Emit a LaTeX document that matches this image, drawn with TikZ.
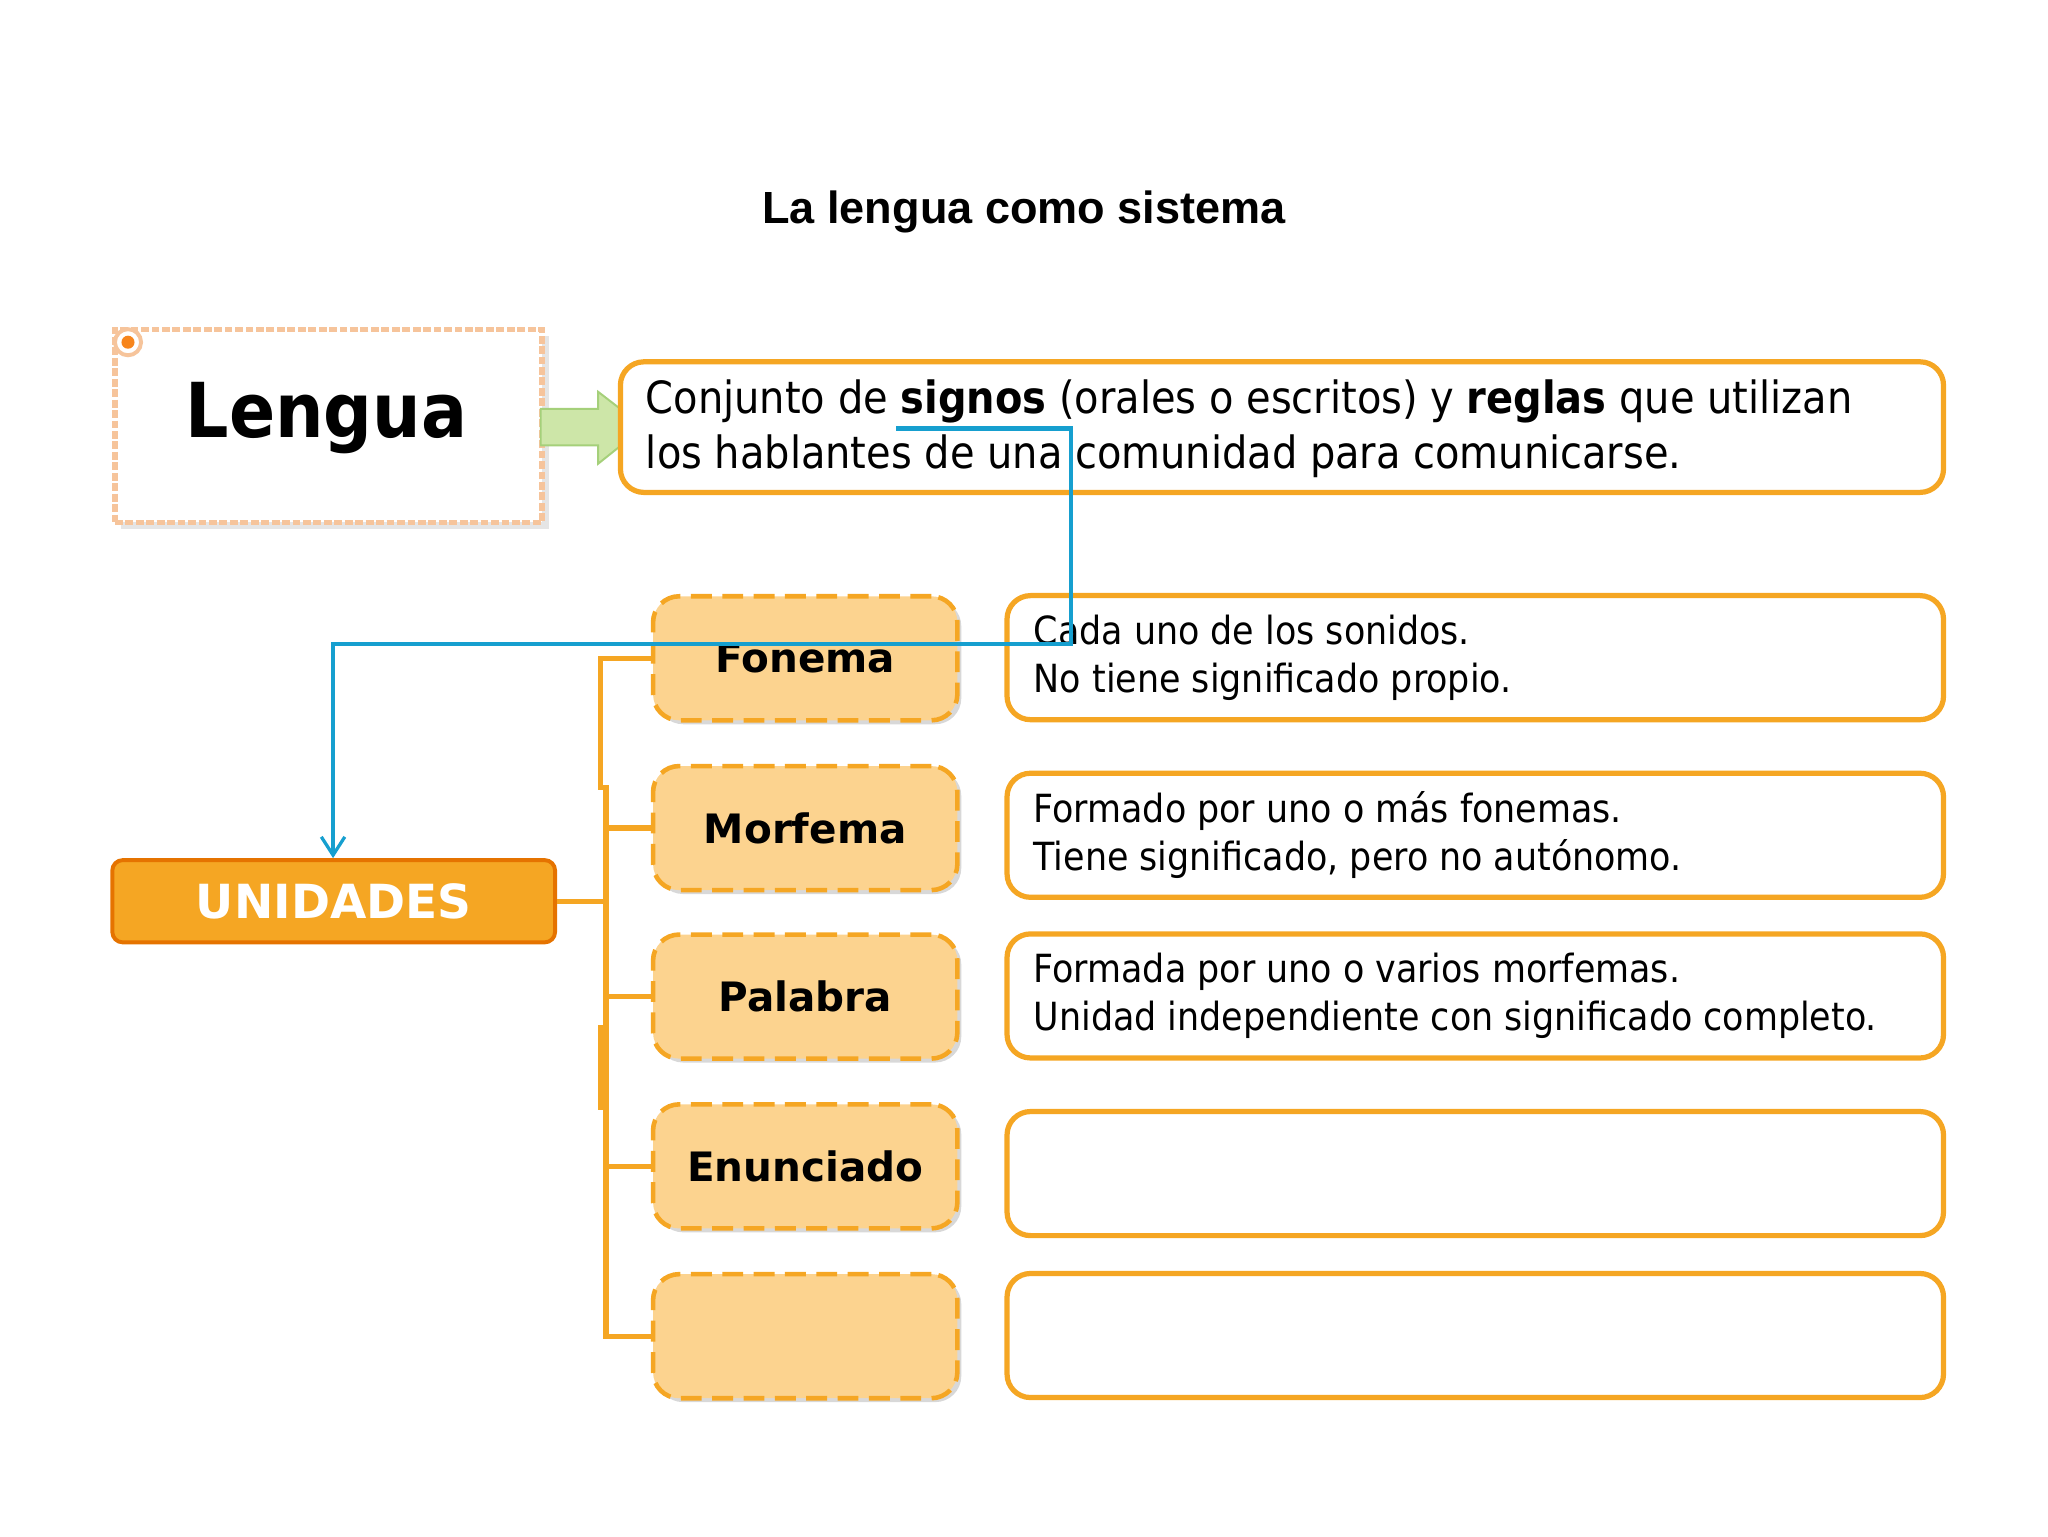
\documentclass[tikz,border=0pt]{standalone}
\usepackage{fontspec}
\setmainfont{DejaVu Sans Condensed}
\newfontfamily\titlefont{Liberation Sans}
\newfontfamily\lfont{DejaVu Sans}
\usetikzlibrary{arrows.meta,shadows}
\definecolor{org}{HTML}{F5A623}
\definecolor{unitfill}{HTML}{FCD38F}
\definecolor{peach}{HTML}{F6C49B}
\definecolor{blu}{HTML}{169FCF}
\definecolor{grfill}{HTML}{CDE6A8}
\definecolor{grdraw}{HTML}{A5D07A}
\tikzset{
 defbox/.style={draw=org,line width=4pt,rounded corners=18pt,fill=white},
 unitbox/.style={draw=org,line width=3.5pt,dash pattern=on 16pt off 8pt,rounded corners=20pt,fill=unitfill,
   drop shadow={shadow xshift=3pt,shadow yshift=-3pt,fill=gray!60}},
 unitlbl/.style={font=\lfont\bfseries\fontsize{31}{36}\selectfont},
 desc/.style={anchor=west,align=left,font=\fontsize{29.7}{37}\selectfont},
 tree/.style={draw=org,line width=4pt},
}
\begin{document}
\begin{tikzpicture}[x=1pt,y=-1pt]
\useasboundingbox (0,0) rectangle (1568,1176);
\node (title) at (784,162) {\titlefont\bfseries\fontsize{34.5}{38}\selectfont La lengua como sistema};
% Lengua box
\filldraw[fill=gray!20,draw=none] (93,257) rectangle (420,405);
\node[draw=peach,line width=4pt,dash pattern=on 6pt off 2pt,fill=white,minimum width=327pt,minimum height=148pt,inner sep=0pt] (lengua) at (251.5,326) {};
\node at (250,320) {\bfseries\fontsize{58}{62}\selectfont Lengua};
\draw[peach,line width=3pt,fill=white] (98,262) circle (10pt);
\fill[org!80!red] (98,262) circle (5pt);
% green arrow
\filldraw[fill=grfill,draw=grdraw,line width=1.5pt] (414,313) -- (458,313) -- (458,300) -- (493,327) -- (458,355) -- (458,341) -- (414,341) -- cycle;
% definition
\draw[defbox] (475,277) rectangle (1488,377);
\node[desc,font=\fontsize{34}{42}\selectfont] (def) at (491,328) {Conjunto de \textbf{signos} (orales o escritos) y \textbf{reglas} que utilizan\\los hablantes de una comunidad para comunicarse.};
% right boxes
\foreach \t/\b/\n in {456/551/d1,592/687/d2,715/810/d3,851/946/d4,975/1070/d5}{
  \draw[defbox] (771,\t) rectangle (1488,\b);
  \coordinate (\n) at (788,{(\t+\b)/2});
}
\node[desc] at (d1) {Cada uno de los sonidos.\\No tiene significado propio.};
\node[desc] at (d2) {Formado por uno o más fonemas.\\Tiene significado, pero no autónomo.};
\node[desc] at (d3) {Formada por uno o varios morfemas.\\Unidad independiente con significado completo.};
% unit boxes
\foreach \y/\n/\l in {504/u1/Fonema,634/u2/Morfema,763/u3/Palabra,893/u4/Enunciado,1023/u5/{}}{
  \node[unitbox,minimum width=233pt,minimum height=95pt,inner sep=0pt] (\n) at (616.5,\y) {};
  \node[unitlbl] at (616.5,\y) {\l};
}
% UNIDADES
\node[draw=orange!90!black,line width=3pt,fill=org,rounded corners=8pt,minimum width=339pt,minimum height=63pt,inner sep=0pt,font=\lfont\bfseries\fontsize{36}{40}\selectfont,text=white] (unid) at (255.5,690) {UNIDADES};
% tree
\draw[tree] (unid.east) -- (462,690);
\draw[tree] (u1.west) -- (460,504) -- (460,603) -- (464,603) -- (464,1023) -- (u5.west);
\draw[tree] (u2.west) -- (464,634);
\draw[tree] (u3.west) -- (464,763);
\draw[tree] (u4.west) -- (464,893);
\draw[tree] (460,785) -- (460,850);
% blue connector
\coordinate (bs) at (686,328);
\draw[blu,line width=3.5pt,-{Straight Barb[length=14pt,width=18pt,line width=2.5pt]}] (bs) -- (820,328) -- (820,493) -- (255,493) -- (unid.north -| 255,0);
\end{tikzpicture}
\end{document}
